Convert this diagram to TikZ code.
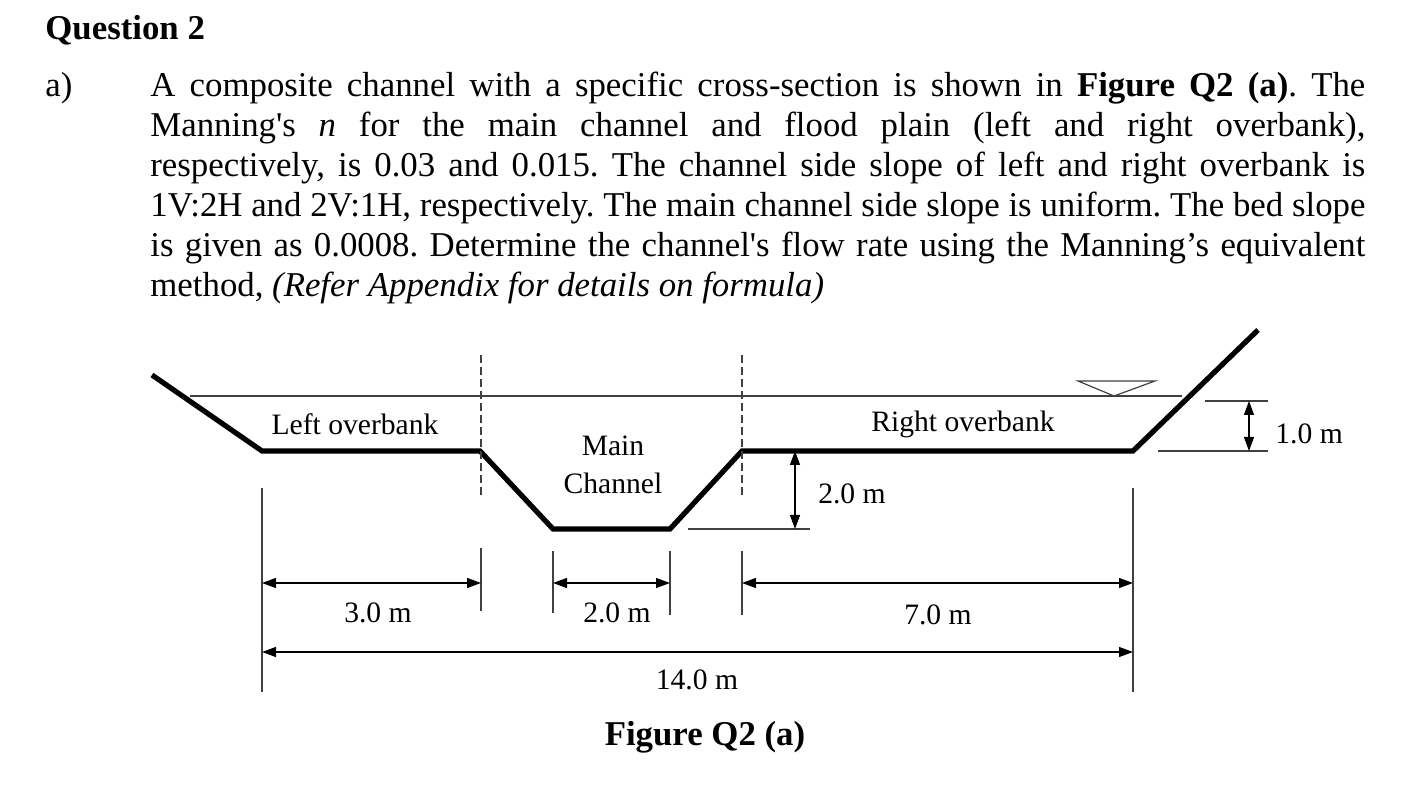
\documentclass[tikz,border=0pt]{standalone}
\usepackage{fontspec}
\setmainfont{Liberation Serif}
\usetikzlibrary{arrows.meta}
\begin{document}
\frenchspacing
\begin{tikzpicture}[x=0.5pt,y=-0.5pt,
  thin line/.style={line width=0.6pt, black!75},
  chan/.style={line width=2.6pt, line join=miter},
  dim/.style={line width=0.6pt,{Triangle[length=7pt,width=5pt]}-{Triangle[length=7pt,width=5pt]}},
  lbl/.style={font=\fontsize{14.8}{17}\selectfont, inner sep=0pt},
  body/.style={font=\fontsize{17.4}{20}\selectfont, inner sep=0pt}]
\useasboundingbox (0,0) rectangle (1405,812);
\node[body,font=\fontsize{17.4}{20}\selectfont\bfseries,anchor=west] (q) at (45,30) {Question 2};
\node[body,anchor=west] (a) at (45,88) {a)};
\node[body,anchor=north west,text width=607.5pt,align=justify] (txt) at (150,72) {\frenchspacing\hyphenpenalty=10000 A composite channel with a specific cross-section is shown in \textbf{Figure Q2 (a)}. The\linebreak Manning\textquotesingle s \textit{n} for the main channel and flood plain (left and right overbank),\linebreak respectively, is 0.03 and 0.015. The channel side slope of left and right overbank is\linebreak 1V:2H and 2V:1H, respectively. The main channel side slope is uniform. The bed slope\linebreak is given as 0.0008. Determine the channel\textquotesingle s flow rate using the Manning’s equivalent\linebreak method, \textit{(Refer Appendix for details on formula)}};
% water surface
\coordinate (w1) at (190,396); \coordinate (w2) at (1182,396);
\draw[thin line] (w1) -- (w2);
\coordinate (t1) at (1078,381); \coordinate (t2) at (1155,381); \coordinate (t3) at (1114,396);
\draw[thin line] (t1) -- (t2) -- (t3) -- cycle;
% channel
\draw[chan] (152,375) -- (262,451) -- (480,451) -- (553,529) -- (670,529) -- (742,451) -- (1133,451) -- (1258,330);
% dashed
\draw[thin line, dash pattern=on 4pt off 2pt] (481,355) -- (481,495);
\draw[thin line, dash pattern=on 4pt off 2pt] (742,355) -- (742,495);
% labels
\node[lbl] (lo) at (355,424) {Left overbank};
\node[lbl] (m1) at (613,446) {Main};
\node[lbl] (m2) at (613,483) {Channel};
\node[lbl] (ro) at (963,424) {Right overbank};
% 1.0 m
\draw[thin line] (1205,401) -- (1268,401);
\draw[thin line] (1158,451) -- (1268,451);
\coordinate (d1a) at (1249,401); \coordinate (d1b) at (1249,451);
\draw[dim] (d1a) -- (d1b);
\node[lbl,anchor=west] (l1) at (1275,434) {1.0 m};
% 2.0 m depth
\draw[thin line] (688,529) -- (810,529);
\coordinate (d2a) at (795,451); \coordinate (d2b) at (795,529);
\draw[dim] (d2a) -- (d2b);
\node[lbl] (l2) at (852,494) {2.0 m};
% extension lines
\draw[thin line] (262,488) -- (262,692);
\draw[thin line] (1133,488) -- (1133,692);
\draw[thin line] (481,548) -- (481,611);
\draw[thin line] (553,551) -- (553,613);
\draw[thin line] (670,551) -- (670,615);
\draw[thin line] (742,551) -- (742,615);
% horizontal dims
\draw[dim] (262,583) -- (481,583);
\node[lbl] (l3) at (378,613) {3.0 m};
\draw[dim] (553,583) -- (670,583);
\node[lbl] (l4) at (617,613) {2.0 m};
\draw[dim] (742,583) -- (1133,583);
\node[lbl] (l5) at (938,615) {7.0 m};
\draw[dim] (262,652) -- (1133,652);
\node[lbl] (l6) at (697,680) {14.0 m};
\node[body,font=\fontsize{17.4}{20}\selectfont\bfseries] (fig) at (705,737) {Figure Q2 (a)};
\end{tikzpicture}
\end{document}
